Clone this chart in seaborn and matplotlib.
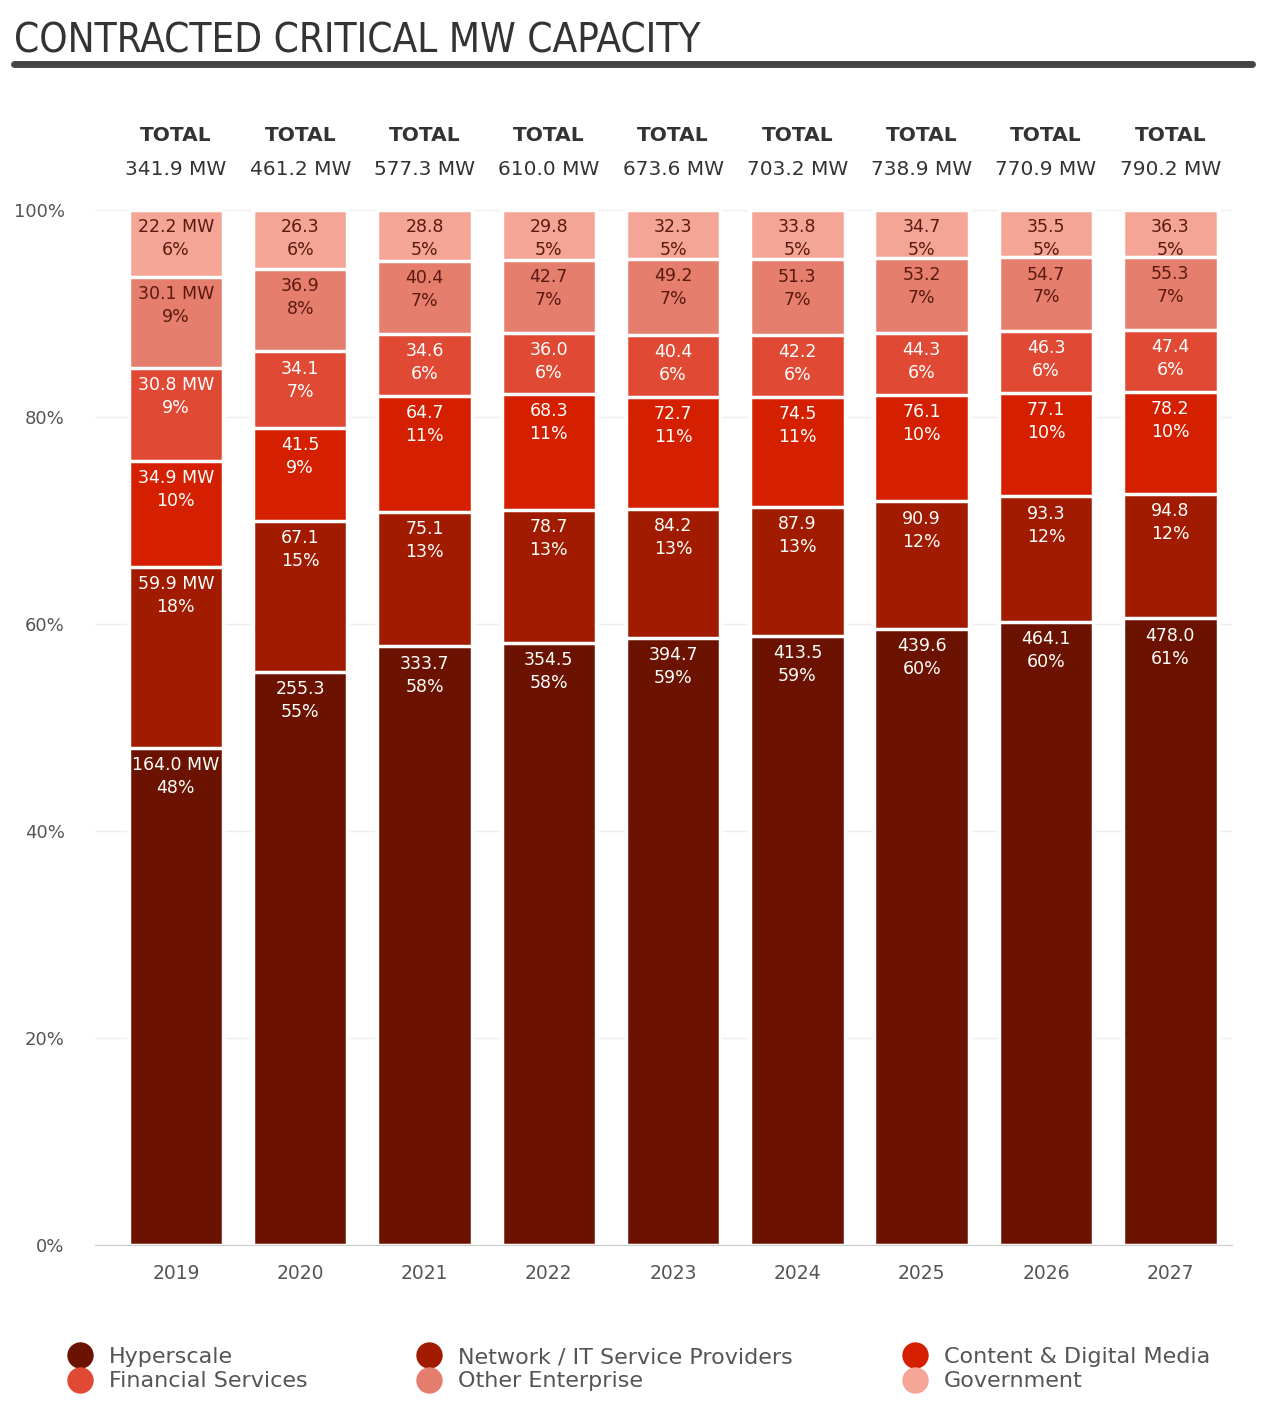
import matplotlib
matplotlib.use("Agg")
import matplotlib.pyplot as plt
import seaborn as sns
import numpy as np
import pandas as pd
from matplotlib.lines import Line2D

years = ["2019", "2020", "2021", "2022", "2023", "2024", "2025", "2026", "2027"]
series_names = ["Hyperscale", "Network / IT Service Providers", "Content & Digital Media",
                "Financial Services", "Other Enterprise", "Government"]
hyperscale = [164.0, 255.3, 333.7, 354.5, 394.7, 413.5, 439.6, 464.1, 478.0]
network = [59.9, 67.1, 75.1, 78.7, 84.2, 87.9, 90.9, 93.3, 94.8]
content = [34.9, 41.5, 64.7, 68.3, 72.7, 74.5, 76.1, 77.1, 78.2]
financial = [30.8, 34.1, 34.6, 36.0, 40.4, 42.2, 44.3, 46.3, 47.4]
other_ent = [30.1, 36.9, 40.4, 42.7, 49.2, 51.3, 53.2, 54.7, 55.3]
government = [22.2, 26.3, 28.8, 29.8, 32.3, 33.8, 34.7, 35.5, 36.3]
totals = [341.9, 461.2, 577.3, 610.0, 673.6, 703.2, 738.9, 770.9, 790.2]
colors = ["#6B1300", "#A01B00", "#D42000", "#E04A35", "#E57E6C", "#F4A596"]

font = "Roboto"
plt.rcParams["font.family"] = font
sns.set_style("white")

series = [hyperscale, network, content, financial, other_ent, government]
vals = np.array(series)
tot = np.array(totals)
pct = vals / vals.sum(axis=0) * 100
cum = np.cumsum(pct, axis=0)

fig = plt.figure(figsize=(12.68, 14.16), dpi=100)
ax = fig.add_axes([0.075, 0.121, 0.897, 0.731])

for i in range(5, -1, -1):
    df = pd.DataFrame({"year": years, "v": cum[i]})
    sns.barplot(data=df, x="year", y="v", color=colors[i], width=0.76,
                edgecolor="white", linewidth=2.5, saturation=1, ax=ax)

for j in range(len(years)):
    for i in range(6):
        top = cum[i, j]
        suffix = " MW" if j == 0 else ""
        txt = f"{vals[i, j]:.1f}{suffix}\n{round(pct[i, j]):.0f}%"
        col = "#5a1a10" if i >= 4 else "white"
        ax.text(j, top - 0.8, txt, ha="center", va="top", fontsize=12.5,
                color=col, linespacing=1.35)
    ax.text(j, 106.2, "TOTAL", ha="center", va="bottom", fontsize=14.5,
            fontweight="bold", color="#333333")
    ax.text(j, 103.0, f"{totals[j]:.1f} MW", ha="center", va="bottom",
            fontsize=14.5, color="#333333")

ax.set_ylim(0, 100)
ax.set_xlim(-0.65, 8.5)
ax.set_yticks([0, 20, 40, 60, 80, 100])
ax.set_yticklabels([f"{v}%" for v in [0, 20, 40, 60, 80, 100]], fontsize=13, color="#555555")
ax.tick_params(axis="x", labelsize=13.5, colors="#555555", length=0, pad=14)
ax.tick_params(axis="y", length=0, pad=22)
ax.set_xlabel("")
ax.set_ylabel("")
ax.grid(axis="y", color="#eeeeee", linewidth=1)
ax.set_axisbelow(True)
for s in ["top", "right", "left"]:
    ax.spines[s].set_visible(False)
ax.spines["bottom"].set_color("#cccccc")

fig.text(0.011, 0.963, "CONTRACTED CRITICAL MW CAPACITY", fontsize=29,
         color="#333333", ha="left", va="baseline", fontstretch="condensed")
fig.add_artist(Line2D([0.011, 0.987], [0.9545, 0.9545], color="#444444", linewidth=5))

order = [0, 3, 1, 4, 2, 5]
handles = [Line2D([], [], marker="o", linestyle="", markersize=19,
                  markerfacecolor=colors[k], markeredgecolor="none") for k in order]
labels = [series_names[k] for k in order]
fig.legend(handles, labels, loc="center", bbox_to_anchor=(0.5, 0.033), ncol=3,
           frameon=False, fontsize=16, labelcolor="#555555", handletextpad=0.3,
           columnspacing=4.5, labelspacing=0.2)

fig.savefig("out.png", dpi=100)
